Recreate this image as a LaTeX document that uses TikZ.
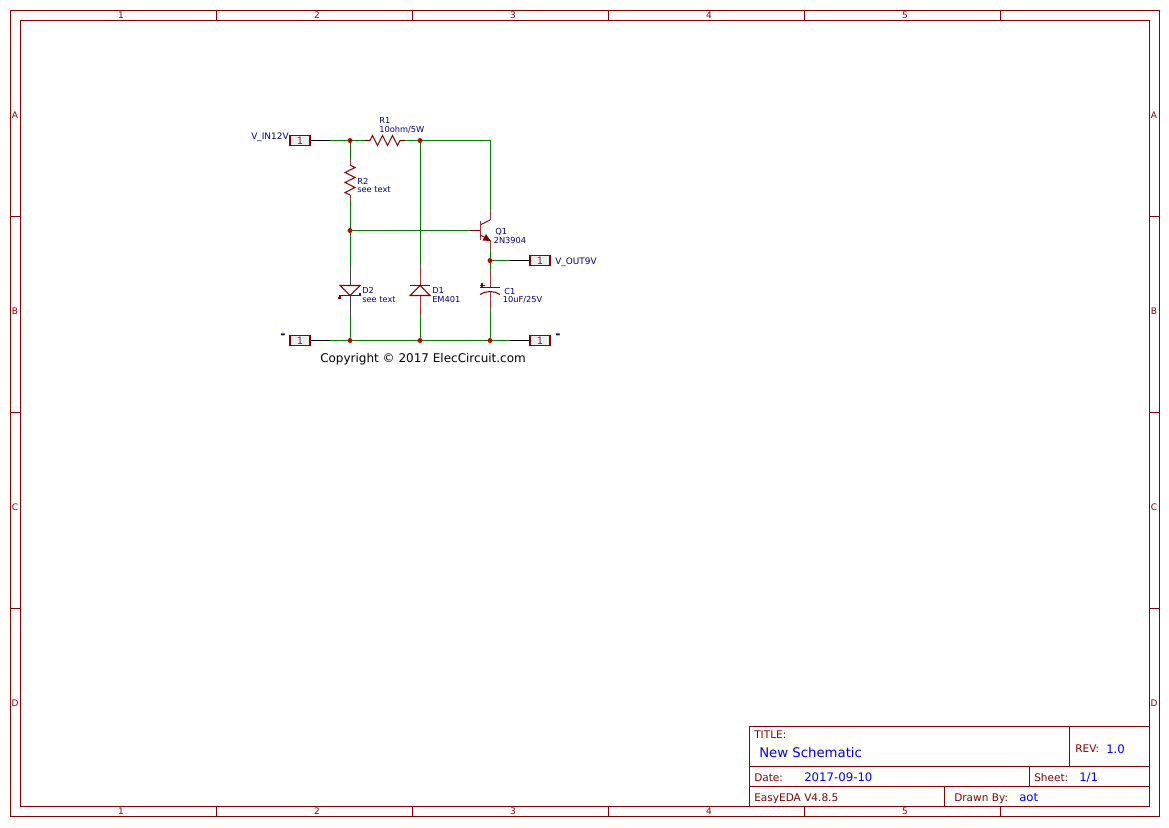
\documentclass[tikz,border=0pt]{standalone}
\usepackage{fontspec}
\setmainfont{DejaVu Sans}
\usetikzlibrary{arrows.meta}
\definecolor{frame}{HTML}{880000}
\definecolor{wire}{HTML}{008000}
\definecolor{netlbl}{HTML}{000080}
\definecolor{dot}{HTML}{CC0000}
\definecolor{pinfill}{HTML}{EEEEEE}
\tikzset{
  x=0.75pt,y=-0.75pt,line width=0.75pt,
  fr/.style={draw=frame},
  wr/.style={draw=wire},
  blk/.style={draw=black},
  sym/.style={draw=frame,line join=miter,line width=0.8pt},
  stub/.style={draw=frame!80!white,line width=0.75pt},
  stubk/.style={draw=black!75!white,line width=0.75pt},
  jn/.style={circle,fill=dot,draw=none,minimum size=3.7pt,inner sep=0pt},
  pinbox/.style={rectangle,draw=frame,line width=1pt,fill=pinfill,minimum width=15pt,minimum height=7.5pt,inner sep=0pt,font=\fontsize{7.5pt}{8pt}\selectfont,text=black!75},
  lbl/.style={anchor=base west,inner sep=0pt,text=netlbl,font=\fontsize{6.2pt}{7pt}\selectfont},
  netl/.style={lbl,font=\fontsize{6.7pt}{8pt}\selectfont},
  minusl/.style={lbl,font=\bfseries\fontsize{9.5pt}{10pt}\selectfont},
  tick/.style={inner sep=0pt,text=frame,font=\fontsize{6.75pt}{8pt}\selectfont},
  tk/.style={anchor=base west,inner sep=0pt,text=frame,font=\fontsize{7.9pt}{9pt}\selectfont},
  tv/.style={anchor=base west,inner sep=0pt,text=blue,font=\fontsize{8.8pt}{10pt}\selectfont},
}
\begin{document}
\begin{tikzpicture}
\useasboundingbox[fill=white] (0,0) rectangle (1169,827);
% frame
\draw[fr] (10,10.5) rectangle (1159,816.5);
\draw[fr] (20,20.5) rectangle (1149,806.5);
\foreach \x in {216,412,608,804,1000}{
  \draw[fr] (\x,10.5) -- (\x,20.5);
  \draw[fr] (\x,806.5) -- (\x,816.5);
}
\foreach \y in {216.5,412.5,608.5}{
  \draw[fr] (10,\y) -- (20,\y);
  \draw[fr] (1149,\y) -- (1159,\y);
}
\foreach \i/\x in {1/121,2/317,3/513,4/709,5/905}{
  \node[tick] (top\i) at (\x,15.5) {\i};
  \node[tick] (bot\i) at (\x,811.5) {\i};
}
\foreach \l/\y in {A/115,B/311,C/507,D/703}{
  \node[tick] (left\l) at (15,\y) {\l};
  \node[tick] (right\l) at (1154,\y) {\l};
}
% title block
\draw[fr] (749,726.5) rectangle (1149,806.5);
\draw[fr] (749,766.5) -- (1149,766.5);
\draw[fr] (749,786.5) -- (1149,786.5);
\draw[fr] (1069,726.5) -- (1069,766.5);
\draw[fr] (1029,766.5) -- (1029,786.5);
\draw[fr] (944,786.5) -- (944,806.5);
\node[tk] (ttitle) at (754,738) {TITLE:};
\node[tv,font=\fontsize{9.95pt}{11pt}\selectfont] (vtitle) at (759,757) {New Schematic};
\node[tk] (trev) at (1075,752) {REV:};
\node[tv] (vrev) at (1106,753) {1.0};
\node[tk] (tdate) at (754,781) {Date:};
\node[tv] (vdate) at (804,781) {2017-09-10};
\node[tk] (tsheet) at (1034,781) {Sheet:};
\node[tv] (vsheet) at (1079,781) {1/1};
\node[tk] (tver) at (754,801) {EasyEDA V4.8.5};
\node[tk] (tdrawn) at (954,801) {Drawn By:};
\node[tv] (vdrawn) at (1019,801) {aot};
% coordinates
\coordinate (pinAs) at (330,140.5);
\coordinate (r1a) at (365,140.5);
\coordinate (r1b) at (405,140.5);
\coordinate (nE) at (490,140.5);
\coordinate (r2a) at (350,160);
\coordinate (r2b) at (350,200);
\coordinate (d2a) at (350,265);
\coordinate (d2b) at (350,315);
\coordinate (d1a) at (420,265);
\coordinate (d1b) at (420,315);
\coordinate (qb) at (470,230.5);
\coordinate (qc) at (490,210);
\coordinate (qe) at (490,250);
\coordinate (c1a) at (490,270);
\coordinate (c1b) at (490,310);
\coordinate (pinBs) at (510,260.5);
\coordinate (pinCs) at (330,340.5);
\coordinate (pinDs) at (510,340.5);
% wires
\draw[wr] (pinAs) -- (r1a);
\draw[wr] (r1b) -- (nE) -- (qc);
\draw[wr] (350,140.5) -- (r2a);
\draw[wr] (r2b) -- (d2a);
\draw[wr] (420,140.5) -- (d1a);
\draw[wr] (350,230.5) -- (qb);
\draw[wr] (qe) -- (c1a);
\draw[wr] (490,260.5) -- (pinBs);
\draw[wr] (d2b) -- (350,340.5);
\draw[wr] (d1b) -- (420,340.5);
\draw[wr] (c1b) -- (490,340.5);
\draw[wr] (pinCs) -- (pinDs);
% junctions
\node[jn] (j1) at (350,140.5) {};
\node[jn] (j2) at (420,140.5) {};
\node[jn] (j3) at (350,230.5) {};
\node[jn] (j4) at (490,260.5) {};
\node[jn] (j5) at (350,340.5) {};
\node[jn] (j6) at (420,340.5) {};
\node[jn] (j7) at (490,340.5) {};
% pins
\node[pinbox] (pinA) at (300,140.5) {1};
\node[pinbox] (pinB) at (540,260.5) {1};
\node[pinbox] (pinC) at (300,340.5) {1};
\node[pinbox] (pinD) at (540,340.5) {1};
\draw[blk] (pinA) -- (pinAs);
\draw[blk] (pinB) -- (pinBs);
\draw[blk] (pinC) -- (pinCs);
\draw[blk] (pinD) -- (pinDs);
% R1
\draw[sym] (r1a) -- (370,140.5) -- (372.5,135.5) -- (377.5,145.5) -- (382.5,135.5) -- (387.5,145.5) -- (392.5,135.5) -- (397.5,145.5) -- (400,140.5) -- (r1b);
% R2
\draw[stub] (r2a) -- (350,165);
\draw[stub] (350,195) -- (r2b);
\draw[sym] (350,165) -- (355,167.5) -- (345,172.5) -- (355,177.5) -- (345,182.5) -- (355,187.5) -- (345,192.5) -- (350,195);
% D2
\draw[stubk] (d2a) -- (350,285);
\draw[stubk] (350,295) -- (d2b);
\draw[sym] (340,285.5) -- (360,285.5) -- (350,295.5) -- cycle;
\draw[sym] (360,292.5) -- (360,295.5) -- (340,295.5) -- (340,298) -- (337.5,298);
% D1
\draw[stub] (d1a) -- (420,285.5);
\draw[stub] (420,295.5) -- (d1b);
\draw[sym] (410,295.5) -- (430,295.5) -- (420,285.5) -- cycle;
\draw[sym] (410,285.5) -- (430,285.5);
% Q1
\draw[stub] (qc) -- (490,220);
\draw[sym] (490,220) -- (480,225);
\draw[sym] (qb) -- (480,230.5);
\draw[stub] (480,221) -- (480,240);
\draw[sym] (480,235) -- (490,240);
\draw[stub] (490,240) -- (qe);
\fill[frame] (490.5,241) -- (482.5,240.5) -- (486,234) -- cycle;
% C1
\draw[stub] (c1a) -- (490,287);
\draw[sym] (480,287.5) -- (500,287.5);
\draw[sym] (480,294.5) .. controls (486,290.5) and (494,290.5) .. (500,294.5);
\draw[stub] (490,291.5) -- (c1b);
\draw[sym] (479.5,285.5) -- (484.5,285.5);
\draw[sym] (482,283) -- (482,288);
% labels
\node[netl] (lA) at (251,140) {V\_IN12V};
\node[netl] (lB) at (555,264) {V\_OUT9V};
\node[minusl] (lC) at (280,338) {-};
\node[minusl] (lD) at (555,338) {-};
\node[lbl] (r1n) at (379,124) {R1};
\node[lbl] (r1v) at (379,133) {10ohm/5W};
\node[lbl] (r2n) at (357,185) {R2};
\node[lbl] (r2v) at (357,193) {see text};
\node[lbl] (d2n) at (362,293.5) {D2};
\node[lbl] (d2v) at (362,302.5) {see text};
\node[lbl] (d1n) at (432,293.5) {D1};
\node[lbl] (d1v) at (432,302.5) {EM401};
\node[lbl] (q1n) at (495,234) {Q1};
\node[lbl] (q1v) at (493.5,243.5) {2N3904};
\node[lbl] (c1n) at (504,294) {C1};
\node[lbl] (c1v) at (502.5,302.5) {10uF/25V};
\node[anchor=base west,inner sep=0pt,font=\fontsize{9pt}{11pt}\selectfont,text=black] (cp) at (320,362.5) {Copyright © 2017 ElecCircuit.com};
\end{tikzpicture}
\end{document}
